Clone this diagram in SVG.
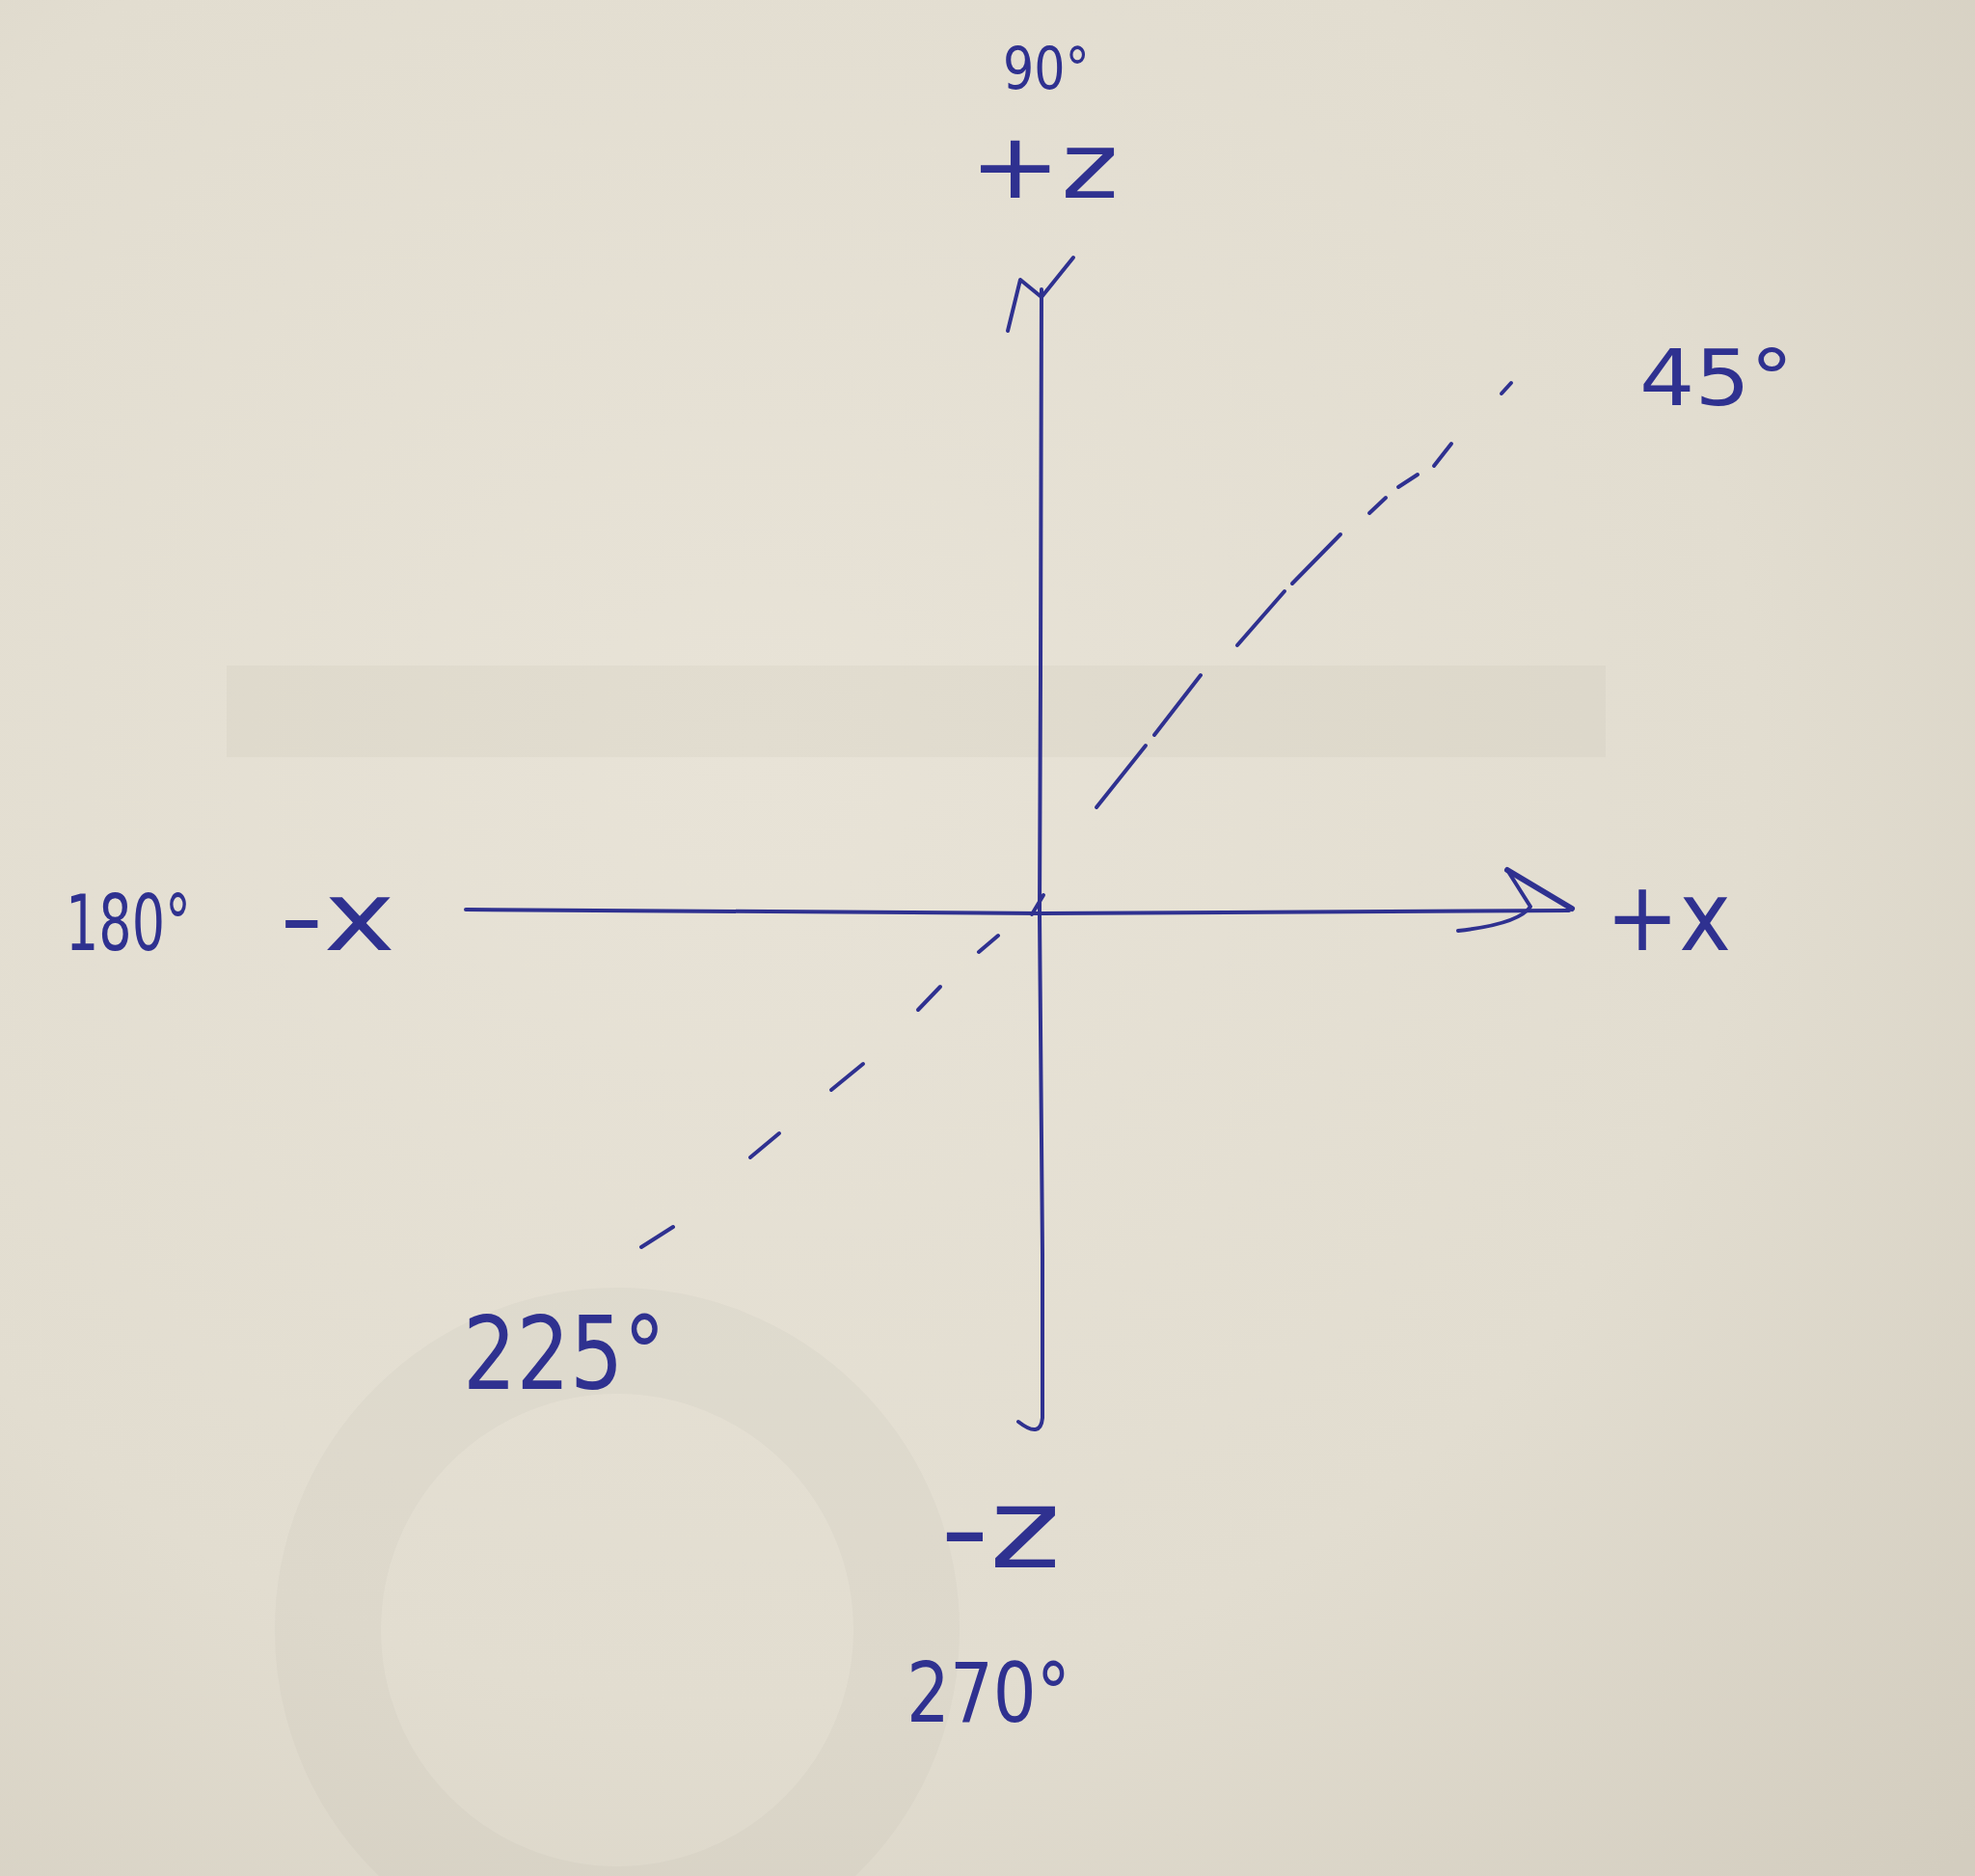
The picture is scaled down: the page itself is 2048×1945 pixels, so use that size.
<svg xmlns="http://www.w3.org/2000/svg" width="2048" height="1945" viewBox="0 0 2048 1945">
<defs>
<radialGradient id="paper" cx="0.38" cy="0.4" r="0.85">
<stop offset="0" stop-color="#e8e3d7"/>
<stop offset="0.6" stop-color="#e2ddd0"/>
<stop offset="1" stop-color="#d3cdbf"/>
</radialGradient>
<style>
.ink{fill:none;stroke:#2f3190;stroke-linecap:round;stroke-linejoin:round}
.axis{stroke-width:4}
.dash{stroke-width:4}
.lbl{font-family:"DejaVu Sans","Liberation Sans",sans-serif;fill:#2f3190}
.ghost{fill:#5a5448;opacity:0.045}
</style>
</defs>
<rect width="2048" height="1945" fill="url(#paper)"/>
<g id="showthrough">
<rect class="ghost" x="235" y="690" width="1430" height="95"/>
<circle cx="640" cy="1690" r="300" fill="none" stroke="#5a5448" stroke-width="110" opacity="0.035"/>
</g>
<g id="connectors">
<path class="ink axis" d="M1080,300 L1079,700 L1078,947 L1081,1300 L1081,1470 Q1079,1492 1056,1474"/>
<path class="ink axis" d="M1045,343 L1058,290 L1080,308 L1113,267"/>
<path class="ink axis" d="M483,943 L1080,947 L1627,944"/>
<path class="ink" stroke-width="6" d="M1563,902 L1630,942"/>
<path class="ink axis" d="M1512,965 Q1575,958 1587,940 L1563,902"/>
<g class="ink dash">
<path d="M1070,948 L1082,928"/>
<path d="M1137,837 L1188,773"/>
<path d="M1197,762 L1245,700"/>
<path d="M1283,669 L1332,613"/>
<path d="M1340,605 L1390,554"/>
<path d="M1420,532 L1437,516"/>
<path d="M1450,505 L1470,492"/>
<path d="M1487,483 L1505,460"/>
<path d="M1557,408 L1567,397"/>
<path d="M1015,987 L1035,970"/>
<path d="M952,1047 L975,1023"/>
<path d="M862,1130 L895,1103"/>
<path d="M778,1200 L808,1175"/>
<path d="M665,1293 L698,1272"/>
</g>
</g>
<g id="label-90"><text class="lbl" x="1040" y="92" font-size="60" textLength="90" lengthAdjust="spacingAndGlyphs">90°</text></g>
<g id="label-pz"><text class="lbl" x="1005" y="205" font-size="95" textLength="155" lengthAdjust="spacingAndGlyphs">+z</text></g>
<g id="label-45"><text class="lbl" x="1700" y="420" font-size="80" textLength="160" lengthAdjust="spacingAndGlyphs">45°</text></g>
<g id="label-180"><text class="lbl" x="68" y="985" font-size="80" textLength="130" lengthAdjust="spacingAndGlyphs">180°</text></g>
<g id="label-mx"><text class="lbl" x="290" y="985" font-size="100" textLength="120" lengthAdjust="spacingAndGlyphs">-x</text></g>
<g id="label-px"><text class="lbl" x="1665" y="985" font-size="100" textLength="130" lengthAdjust="spacingAndGlyphs">+x</text></g>
<g id="label-225"><text class="lbl" x="480" y="1440" font-size="105" textLength="210" lengthAdjust="spacingAndGlyphs">225°</text></g>
<g id="label-mz"><text class="lbl" x="975" y="1625" font-size="115" textLength="125" lengthAdjust="spacingAndGlyphs">-z</text></g>
<g id="label-270"><text class="lbl" x="940" y="1785" font-size="85" textLength="170" lengthAdjust="spacingAndGlyphs">270°</text></g>
</svg>
